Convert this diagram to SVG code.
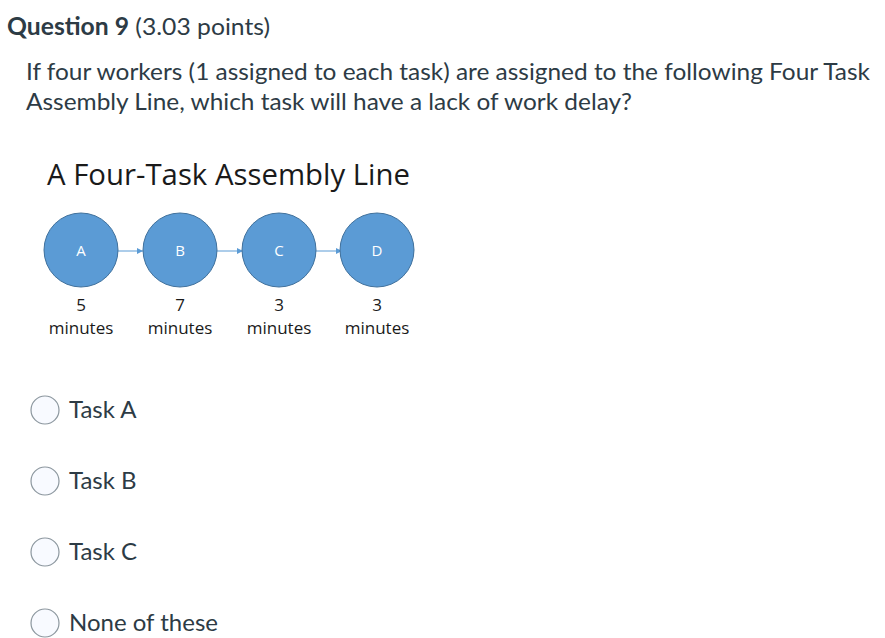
<svg xmlns="http://www.w3.org/2000/svg" width="885" height="638" viewBox="0 0 885 638">
<style>
.q{font-family:Lato,"Liberation Sans",sans-serif;fill:#2d3b45}
.d{font-family:"Open Sans","Liberation Sans",sans-serif;fill:#1a1a1a}
.node circle{fill:#5b9bd5;stroke:#41719c;stroke-width:1}
.node text{font-family:"Open Sans","Liberation Sans",sans-serif;font-size:15px;fill:#fff;text-anchor:middle}
.radio{fill:#f8faff;stroke:#8b969e;stroke-width:1.2}
.conn line{stroke:#5b9bd5;stroke-width:1}
</style>
<defs>
<marker id="ah" viewBox="0 0 10 10" refX="10" refY="5" markerWidth="6" markerHeight="6" orient="auto" markerUnits="userSpaceOnUse">
<path d="M0,0 L10,5 L0,10 z" fill="#5b9bd5"/>
</marker>
</defs>
<rect width="885" height="638" fill="#fff"/>
<text class="q" x="7" y="35" font-size="24" textLength="263" lengthAdjust="spacingAndGlyphs"><tspan font-weight="bold">Question 9</tspan> (3.03 points)</text>
<text class="q" x="26" y="80" font-size="24" textLength="844" lengthAdjust="spacingAndGlyphs">If four workers (1 assigned to each task) are assigned to the following Four Task</text>
<text class="q" x="26" y="110" font-size="24" textLength="606" lengthAdjust="spacingAndGlyphs">Assembly Line, which task will have a lack of work delay?</text>
<text class="d" x="47" y="185" font-size="29" textLength="363" lengthAdjust="spacingAndGlyphs">A Four-Task Assembly Line</text>
<g class="conn">
<line x1="117" y1="251" x2="143" y2="251" marker-end="url(#ah)"/>
<line x1="216" y1="251" x2="243" y2="251" marker-end="url(#ah)"/>
<line x1="315" y1="251" x2="342" y2="251" marker-end="url(#ah)"/>
</g>
<g id="nodeA" class="node"><circle cx="81" cy="250" r="37"/><text x="81" y="256">A</text></g>
<g id="nodeB" class="node"><circle cx="180" cy="250" r="37"/><text x="180" y="256">B</text></g>
<g id="nodeC" class="node"><circle cx="279" cy="250" r="37"/><text x="279" y="256">C</text></g>
<g id="nodeD" class="node"><circle cx="377" cy="250" r="37"/><text x="377" y="256">D</text></g>
<g class="d" font-size="17" text-anchor="middle">
<text x="81" y="311">5</text><text x="81" y="334">minutes</text>
<text x="180" y="311">7</text><text x="180" y="334">minutes</text>
<text x="279" y="311">3</text><text x="279" y="334">minutes</text>
<text x="377" y="311">3</text><text x="377" y="334">minutes</text>
</g>
<g id="opt1"><circle class="radio" cx="45" cy="410" r="14"/><text class="q" x="69" y="418" font-size="24">Task A</text></g>
<g id="opt2"><circle class="radio" cx="45" cy="481" r="14"/><text class="q" x="69" y="489" font-size="24">Task B</text></g>
<g id="opt3"><circle class="radio" cx="45" cy="552" r="14"/><text class="q" x="69" y="560" font-size="24">Task C</text></g>
<g id="opt4"><circle class="radio" cx="45" cy="623" r="14"/><text class="q" x="69" y="631" font-size="24">None of these</text></g>
</svg>
